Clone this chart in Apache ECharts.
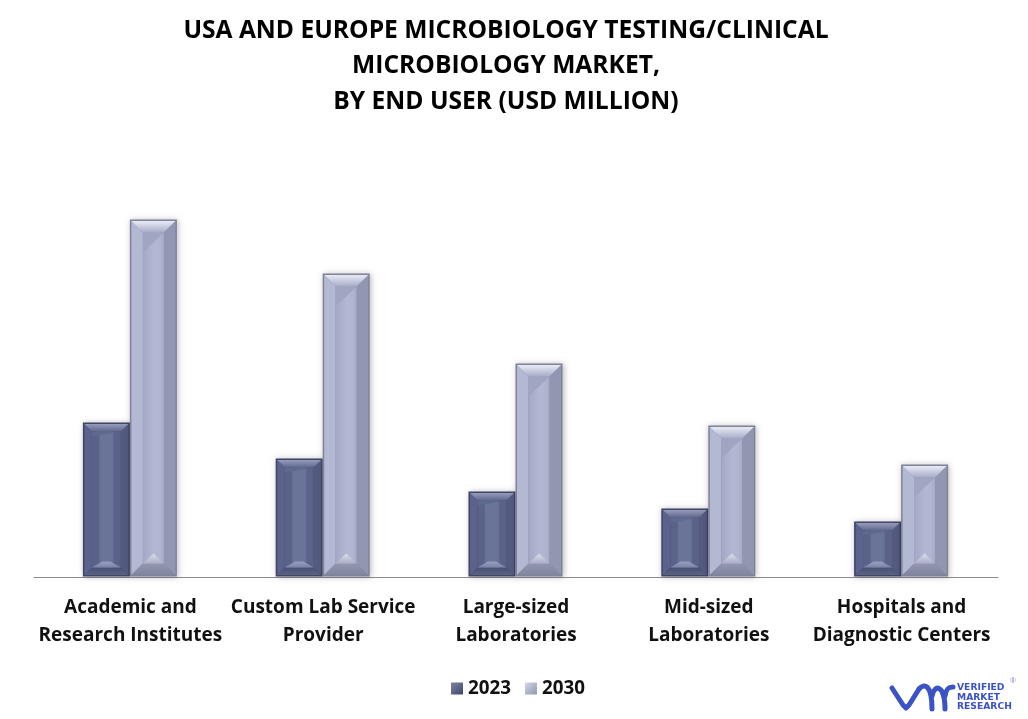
<!DOCTYPE html>
<html>
<head>
<meta charset="utf-8">
<title>Microbiology market by end user</title>
<script src="https://cdn.jsdelivr.net/npm/echarts@6/dist/echarts.min.js"></script>
<style>
html, body { margin: 0; padding: 0; background: #fff; }
#chart { width: 1028px; height: 719px; }
</style>
</head>
<body>
<div id="chart"></div>
<script>
// data (no scale printed, so values are relative heights)
var titleLines = ["USA AND EUROPE MICROBIOLOGY TESTING/CLINICAL", "MICROBIOLOGY MARKET,", "BY END USER (USD MILLION)"];
var categories = ["Academic and\nResearch Institutes", "Custom Lab Service\nProvider", "Large-sized\nLaboratories", "Mid-sized\nLaboratories", "Hospitals and\nDiagnostic Centers"];
var seriesNames = ["2023", "2030"];
var values2023 = [154, 118, 85, 68, 55];
var values2030 = [357, 303, 213, 151, 112];

var fontName = '"Open Sans", "Noto Sans", sans-serif';
var logoBlue = "#3c53c6";

function linear(x0, y0, x2, y2, c0, c1) {
    return new echarts.graphic.LinearGradient(x0, y0, x2, y2, [
        { offset: 0, color: c0 },
        { offset: 1, color: c1 }
    ]);
}

function poly(points, fill) {
    return { type: "polygon", shape: { points: points }, style: { fill: fill } };
}

// bevel colours of the two series
var paintDark = {
    bevel: 9, edge: "#3f4564", left: "#5b638c", right: "#545b80", bottomFrom: "#4a5072", bottomTo: "#596184",
    topFrom: "#969cbb", topTo: "#5f678f", faceStops: [[0, "#5a628a"], [0.22, "#5a628a"], [0.3, "#6a7398"], [0.7, "#6a7398"], [0.78, "#5a628a"], [1, "#5a628a"]],
    shade: "#5f688e", shadeDrop: 5, hiFrom: "#9aa0bf", hiTo: "#7a82a5", hiRise: 6, hiHalf: 4
};
var paintLight = {
    bevel: 13, edge: "#7f8399", left: "#b4b9d3", right: "#9297b1", bottomFrom: "#9396ae", bottomTo: "#81859f",
    topFrom: "#e9ebf5", topTo: "#a6abc8", faceStops: [[0, "#a3a8c4"], [0.55, "#b3b8d2"], [0.8, "#b1b6d0"], [1, "#a5aac6"]],
    shade: "#a0a5c1", shadeDrop: 20, hiFrom: "#dcdfec", hiTo: "#a9adc7", hiRise: 10, hiHalf: 0
};

function faceFill(stops) {
    var list = [];
    for (var i = 0; i < stops.length; i++) {
        list.push({ offset: stops[i][0], color: stops[i][1] });
    }
    return new echarts.graphic.LinearGradient(0, 0, 1, 0, list);
}

function barItem(paint, offset) {
    return function (params, api) {
        var top = api.coord([api.value(0), api.value(1)]);
        var base = api.coord([api.value(0), 0]);
        var w = 47;
        var x0 = top[0] - 0.5 + offset * w;
        var x1 = x0 + w;
        var y0 = top[1] - 0.5;
        var y1 = base[1] - 0.5;
        var b = paint.bevel;
        var ix0 = x0 + b, ix1 = x1 - b, iy0 = y0 + b, iy1 = y1 - b;
        var mid = (x0 + x1) / 2;
        return {
            type: "group",
            children: [
                {
                    type: "rect",
                    shape: { x: x0, y: y0, width: w, height: y1 - y0 },
                    style: { fill: paint.edge, shadowBlur: 6, shadowColor: "rgba(0,0,0,0.28)", shadowOffsetX: 1, shadowOffsetY: 0 }
                },
                poly([[x0 + 1.5, y0 + 1.5], [ix0, iy0], [ix0, iy1], [x0 + 1.5, y1 - 1.5]], paint.left),
                poly([[x1 - 1.5, y0 + 1.5], [ix1, iy0], [ix1, iy1], [x1 - 1.5, y1 - 1.5]], paint.right),
                poly([[x0 + 1.5, y0 + 1.5], [x1 - 1.5, y0 + 1.5], [ix1, iy0], [ix0, iy0]], linear(0, 0, 0, 1, paint.topFrom, paint.topTo)),
                poly([[x0 + 1.5, y1 - 1.5], [x1 - 1.5, y1 - 1.5], [ix1, iy1], [ix0, iy1]], linear(0, 0, 0, 1, paint.bottomFrom, paint.bottomTo)),
                {
                    type: "rect",
                    shape: { x: ix0, y: iy0, width: ix1 - ix0, height: iy1 - iy0 },
                    style: { fill: faceFill(paint.faceStops) }
                },
                // shaded wedge under the top bevel, highlight above the bottom bevel
                poly([[ix0, iy0], [ix1, iy0], [ix0, iy0 + paint.shadeDrop]], paint.shade),
                poly([[ix0, iy1], [ix1, iy1], [mid + paint.hiHalf, iy1 - paint.hiRise], [mid - paint.hiHalf, iy1 - paint.hiRise]], linear(0, 0, 0, 1, paint.hiFrom, paint.hiTo))
            ]
        };
    };
}

function toRows(values) {
    var rows = [];
    for (var i = 0; i < values.length; i++) {
        rows.push([i, values[i]]);
    }
    return rows;
}

function logoStroke(el) {
    el.style = { fill: "none", stroke: logoBlue, lineWidth: 5, lineCap: "round", lineJoin: "round" };
    return el;
}

function logoText(text, top) {
    return { type: "text", x: 957, y: top, style: { text: text, fontFamily: '"DejaVu Sans", sans-serif', fontSize: 9.2, fontWeight: 700, fill: logoBlue } };
}

var chart = echarts.init(document.getElementById("chart"), null, { renderer: "canvas" });
var option = {
    animation: false,
    backgroundColor: "#ffffff",
    title: {
        text: titleLines.join("\n"),
        left: 501,
        top: 8,
        textAlign: "center",
        textStyle: { fontFamily: fontName, fontSize: 24.6, fontWeight: 700, color: "#000", lineHeight: 35.5 }
    },
    legend: {
        data: seriesNames,
        left: 446,
        top: 674,
        itemWidth: 12,
        itemHeight: 12,
        itemGap: 14,
        icon: "rect",
        textStyle: { fontFamily: fontName, fontSize: 18.8, fontWeight: 700, color: "#111" }
    },
    grid: { left: 34, right: 30, top: 177, bottom: 142 },
    xAxis: {
        type: "category",
        data: categories,
        axisTick: { show: false },
        axisLine: { lineStyle: { color: "#8c8c8c", width: 1 } },
        axisLabel: { interval: 0, margin: 17, fontFamily: fontName, fontSize: 19, fontWeight: 700, color: "#111", lineHeight: 28 }
    },
    yAxis: { type: "value", min: 0, max: 400, show: false, splitLine: { show: false } },
    series: [
        {
            name: seriesNames[0],
            type: "custom",
            renderItem: barItem(paintDark, -1),
            encode: { x: 0, y: 1 },
            itemStyle: { color: linear(0, 0, 1, 1, "#7c84a8", "#3f4666") },
            data: toRows(values2023)
        },
        {
            name: seriesNames[1],
            type: "custom",
            renderItem: barItem(paintLight, 0),
            encode: { x: 0, y: 1 },
            itemStyle: { color: linear(0, 0, 1, 1, "#d5d8e8", "#8f94ae") },
            data: toRows(values2030)
        }
    ],
    // logo, bottom right
    graphic: [
        logoStroke({ type: "polyline", shape: { points: [[892, 688], [903, 705], [906, 708], [909, 705], [919, 689]] } }),
        logoStroke({ type: "bezierCurve", shape: { x1: 919, y1: 689, cpx1: 924, cpy1: 683, cpx2: 932, cpy2: 684, x2: 932, y2: 709 } }),
        logoStroke({ type: "bezierCurve", shape: { x1: 932, y1: 696, cpx1: 934, cpy1: 684, cpx2: 945, cpy2: 684, x2: 945, y2: 709 } }),
        logoStroke({ type: "bezierCurve", shape: { x1: 945, y1: 696, cpx1: 946, cpy1: 688, cpx2: 949, cpy2: 687, x2: 953, y2: 687 } }),
        logoText("VERIFIED", 683),
        logoText("MARKET", 693),
        logoText("RESEARCH", 702.5),
        { type: "text", x: 1010, y: 677, style: { text: "®", fontFamily: fontName, fontSize: 7, fill: "#7f8bd0" } }
    ]
};
chart.setOption(option);
</script>
</body>
</html>
